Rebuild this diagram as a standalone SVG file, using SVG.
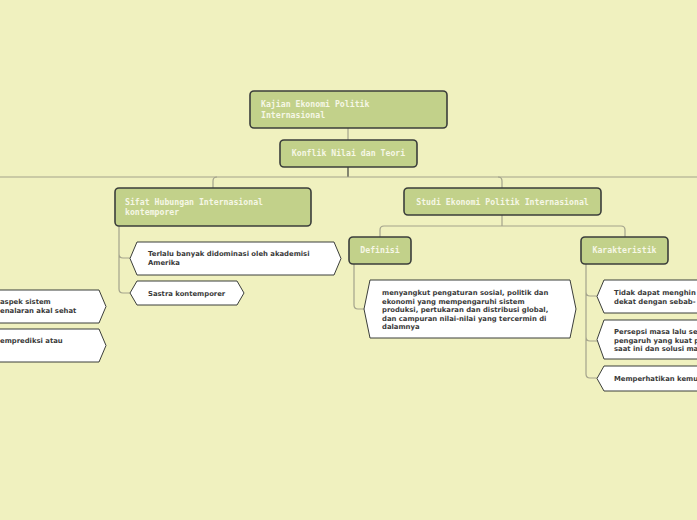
<svg xmlns="http://www.w3.org/2000/svg" width="697" height="520" viewBox="0 0 697 520">
<style>
.bg{fill:#f0f1bf}
.main{fill:#c2d18a;stroke:#3b3e3b;stroke-width:1.6}
.mt{font-family:"DejaVu Sans Mono","Liberation Mono",monospace;font-size:8.2px;font-weight:bold;fill:#f6f7e6}
.leaf{fill:#ffffff;stroke:#3b3e3b;stroke-width:1}
.lt{font-family:"DejaVu Sans","Liberation Sans",sans-serif;font-size:6.85px;font-weight:bold;fill:#3a3a3a}
.c{fill:none;stroke:#a3a38c;stroke-width:1.2}
.cd{fill:none;stroke:#3b3e3b;stroke-width:1.2}
</style>
<rect class="bg" x="0" y="0" width="697" height="520"/>
<g id="connectors">
<line class="c" x1="348" y1="128" x2="348" y2="140"/>
<line class="cd" x1="348" y1="167" x2="348" y2="177"/>
<path class="c" d="M0 177 H697"/>
<path class="c" d="M213 188 V181 Q213 177 217 177"/>
<path class="c" d="M502 188 V181 Q502 177 498 177"/>
<path class="c" d="M502 215 V226"/>
<path class="c" d="M380 237 V230 Q380 226 384 226 H621 Q625 226 625 230 V237"/>
<path class="c" d="M119 226 V254 Q119 258 123 258 H130 M119 254 V289 Q119 293 123 293 H130"/>
<path class="c" d="M354 264 V305 Q354 309 358 309 H364"/>
<path class="c" d="M586 264 V292 Q586 296 590 296 H597 M586 292 V337 Q586 341 590 341 H597 M586 337 V374 Q586 378 590 378 H597"/>
</g>
<g id="n-root">
<rect class="main" x="250" y="91" width="197" height="37" rx="4"/>
<text class="mt" x="261" y="107">Kajian Ekonomi Politik</text>
<text class="mt" x="261" y="118">Internasional</text>
</g>
<g id="n-konflik">
<rect class="main" x="280" y="140" width="137" height="27" rx="4"/>
<text class="mt" x="348.5" y="156" text-anchor="middle">Konflik Nilai dan Teori</text>
</g>
<g id="n-sifat">
<rect class="main" x="115" y="188" width="196" height="38" rx="4"/>
<text class="mt" x="125" y="205">Sifat Hubungan Internasional</text>
<text class="mt" x="125" y="215">kontemporer</text>
</g>
<g id="n-studi">
<rect class="main" x="404" y="188" width="197" height="27" rx="4"/>
<text class="mt" x="502.5" y="205" text-anchor="middle">Studi Ekonomi Politik Internasional</text>
</g>
<g id="n-definisi">
<rect class="main" x="349" y="237" width="62" height="27" rx="4"/>
<text class="mt" x="380" y="253" text-anchor="middle">Definisi</text>
</g>
<g id="n-karakteristik">
<rect class="main" x="581" y="237" width="87" height="27" rx="4"/>
<text class="mt" x="624.5" y="253" text-anchor="middle">Karakteristik</text>
</g>
<g id="n-terlalu">
<path class="leaf" d="M137 242 H334 L341 258.5 L334 275 H137 L130 258.5 Z"/>
<text class="lt" x="148" y="256">Terlalu banyak didominasi oleh akademisi</text>
<text class="lt" x="148" y="265">Amerika</text>
</g>
<g id="n-sastra">
<path class="leaf" d="M137 281 H237 L244 293 L237 305 H137 L130 293 Z"/>
<text class="lt" x="148" y="296">Sastra kontemporer</text>
</g>
<g id="n-aspek">
<path class="leaf" d="M-10 290 H99 L106 306.5 L99 323 H-10 Z"/>
<text class="lt" x="0" y="304">aspek sistem</text>
<text class="lt" x="0" y="313">enalaran akal sehat</text>
</g>
<g id="n-memprediksi">
<path class="leaf" d="M-10 329 H99 L106 345.5 L99 362 H-10 Z"/>
<text class="lt" x="0" y="343">emprediksi atau</text>
</g>
<g id="n-menyangkut">
<path class="leaf" d="M370 280 H570 L576 309 L570 338 H370 L364 309 Z"/>
<text class="lt" x="382" y="295">menyangkut pengaturan sosial, politik dan</text>
<text class="lt" x="382" y="303.5">ekonomi yang mempengaruhi sistem</text>
<text class="lt" x="382" y="312">produksi, pertukaran dan distribusi global,</text>
<text class="lt" x="382" y="320.5">dan campuran nilai-nilai yang tercermin di</text>
<text class="lt" x="382" y="329">dalamnya</text>
</g>
<g id="n-tidak">
<path class="leaf" d="M604 280 H710 V313 H604 L597 296.5 Z"/>
<text class="lt" x="614" y="295">Tidak dapat menghin</text>
<text class="lt" x="614" y="303.5">dekat dengan sebab-</text>
</g>
<g id="n-persepsi">
<path class="leaf" d="M604 320 H710 V359 H604 L597 339.5 Z"/>
<text class="lt" x="614" y="334">Persepsi masa lalu se</text>
<text class="lt" x="614" y="342.5">pengaruh yang kuat p</text>
<text class="lt" x="614" y="351">saat ini dan solusi ma</text>
</g>
<g id="n-memperhatikan">
<path class="leaf" d="M604 366 H710 V391 H604 L597 378.5 Z"/>
<text class="lt" x="614" y="381">Memperhatikan kemu</text>
</g>
</svg>
